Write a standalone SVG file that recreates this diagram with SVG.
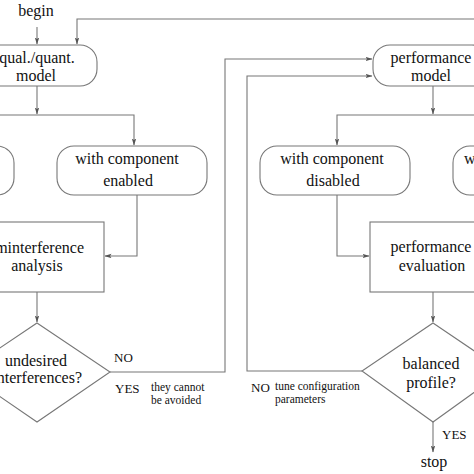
<svg xmlns="http://www.w3.org/2000/svg" width="474" height="474" viewBox="0 0 474 474" font-family="'Liberation Serif', 'Times New Roman', 'DejaVu Serif', serif">
<defs>
<marker id="ah" markerWidth="7" markerHeight="5" refX="6.5" refY="2.2" orient="auto" markerUnits="userSpaceOnUse">
<path d="M0,0 L7,2.2 L0,4.4 L1.5,2.2 z" fill="#555"/>
</marker>
</defs>
<style>
.box{fill:#fff;stroke:#777;stroke-width:1.1}
.ln{fill:none;stroke:#777;stroke-width:1.1}
text{font-family:'Liberation Serif','Times New Roman','DejaVu Serif',serif;fill:#111}
.t{font-size:16px}
.m{text-anchor:middle}
.s{font-size:11.5px}
.y{font-size:13px}
</style>
<rect width="474" height="474" fill="#fff"/>
<g id="connectors">
<path class="ln" d="M37,27 V44" marker-end="url(#ah)"/>
<path class="ln" d="M474,19 H77 V44" marker-end="url(#ah)"/>
<path class="ln" d="M37,86 V114" marker-end="url(#ah)"/>
<path class="ln" d="M0,115 H134 V145" marker-end="url(#ah)"/>
<path class="ln" d="M137,195 V256 H105" marker-end="url(#ah)"/>
<path class="ln" d="M37,292 V322" marker-end="url(#ah)"/>
<path class="ln" d="M110,372 H225 V59 H372" marker-end="url(#ah)"/>
<path class="ln" d="M433,86 V114" marker-end="url(#ah)"/>
<path class="ln" d="M474,115 H337 V145" marker-end="url(#ah)"/>
<path class="ln" d="M337,195 V256 H369" marker-end="url(#ah)"/>
<path class="ln" d="M433,292 V322" marker-end="url(#ah)"/>
<path class="ln" d="M362,371 H247 V76 H372" marker-end="url(#ah)"/>
<path class="ln" d="M433,422 V452" marker-end="url(#ah)"/>
</g>
<g id="begin"><text class="t m" x="36" y="16">begin</text></g>
<g id="qualquant">
<rect class="box" x="-23" y="45" width="120" height="41" rx="17"/>
<text class="t m" x="37" y="63">qual./quant.</text>
<text class="t m" x="36" y="81">model</text>
</g>
<g id="left-box"><rect class="box" x="-136" y="146" width="150" height="49" rx="17"/></g>
<g id="enabled">
<rect class="box" x="57" y="146" width="150" height="49" rx="17"/>
<text class="t m" x="127" y="164">with component</text>
<text class="t m" x="128" y="186">enabled</text>
</g>
<g id="interference">
<rect class="box" x="-30" y="222" width="134" height="70"/>
<text class="t" text-anchor="end" x="84" y="253">minterference</text>
<text class="t m" x="37" y="271">analysis</text>
</g>
<g id="undesired">
<polygon class="box" points="37,323 110,372 37,422 -36,372"/>
<text class="t m" x="36" y="366">undesired</text>
<text class="t" text-anchor="end" x="82" y="383">interferences?</text>
<text class="y" x="114" y="362">NO</text>
<text class="y" x="115" y="393">YES</text>
<text class="s" x="151" y="391">they cannot</text>
<text class="s" x="151" y="404">be avoided</text>
</g>
<g id="perfmodel">
<rect class="box" x="373" y="45" width="116" height="41" rx="17"/>
<text class="t m" x="431" y="63">performance</text>
<text class="t m" x="431" y="81">model</text>
</g>
<g id="disabled">
<rect class="box" x="260" y="146" width="150" height="49" rx="17"/>
<text class="t m" x="332" y="164">with component</text>
<text class="t m" x="333" y="186">disabled</text>
</g>
<g id="right-box">
<rect class="box" x="453" y="146" width="150" height="49" rx="17"/>
<text class="t" x="464" y="164">w</text>
</g>
<g id="perfeval">
<rect class="box" x="370" y="222" width="130" height="70"/>
<text class="t m" x="431" y="252">performance</text>
<text class="t m" x="432" y="271">evaluation</text>
</g>
<g id="balanced">
<polygon class="box" points="433,323 504,371 433,422 362,371"/>
<text class="t m" x="431" y="369">balanced</text>
<text class="t m" x="431" y="388">profile?</text>
<text class="y" x="251" y="392">NO</text>
<text class="s" x="275" y="390">tune configuration</text>
<text class="s" x="275" y="403">parameters</text>
<text class="y" x="442" y="439">YES</text>
</g>
<g id="stop"><text class="t m" x="434" y="467">stop</text></g>
</svg>
